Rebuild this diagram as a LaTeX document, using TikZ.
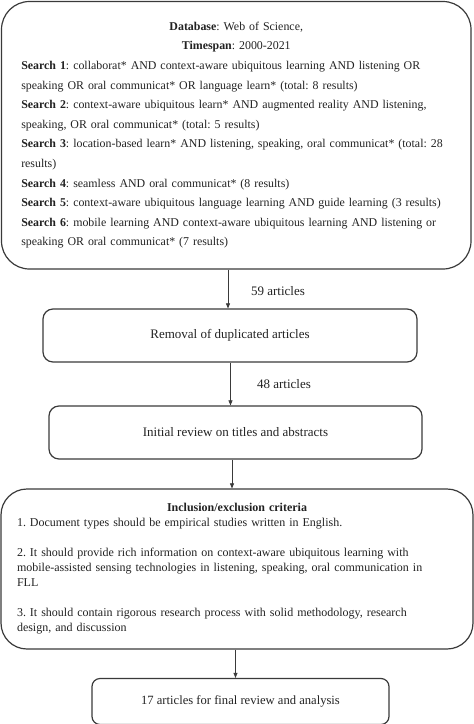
\documentclass[tikz,border=0pt]{standalone}
\usepackage{fontspec}
\setmainfont{Liberation Serif}
\frenchspacing
\usetikzlibrary{arrows.meta}
\definecolor{ink}{HTML}{222222}
\definecolor{edge}{HTML}{3A3A3A}
\tikzset{
  box/.style={draw=edge, line width=1.2pt, text=ink, inner sep=0pt},
  arr/.style={draw=edge, line width=0.6pt, -{Triangle[length=5pt,width=4pt]}},
  lbl/.style={text=ink, font=\fontsize{13}{15}\selectfont, inner sep=0pt}
}
\begin{document}
\begin{tikzpicture}[x=1pt,y=-1pt]
\useasboundingbox (0,0) rectangle (474,724);
\node[box, rounded corners=28pt, minimum width=469.5pt, minimum height=267.5pt,
      text width=430pt, align=left, font=\fontsize{11.9}{19.6}\selectfont] (b1) at (236.25,135.25)
{{\centering\textbf{Database}: Web of Science,\\ \textbf{Timespan}: 2000-2021\par}
\textbf{Search 1}: collaborat* AND context-aware ubiquitous learning AND listening OR\\
speaking OR oral communicat* OR language learn* (total: 8 results)\\
\textbf{Search 2}: context-aware ubiquitous learn* AND augmented reality AND listening,\\
speaking, OR oral communicat* (total: 5 results)\\
\textbf{Search 3}: location-based learn* AND listening, speaking, oral communicat* (total: 28\\
results)\\
\textbf{Search 4}: seamless AND oral communicat* (8 results)\\
\textbf{Search 5}: context-aware ubiquitous language learning AND guide learning (3 results)\\
\textbf{Search 6}: mobile learning AND context-aware ubiquitous learning AND listening or\\
speaking OR oral communicat* (7 results)};

\node[box, rounded corners=10pt, minimum width=374pt, minimum height=53pt,
      font=\fontsize{13}{15}\selectfont] (b2) at (230,335.5) {Removal of duplicated articles};

\node[box, rounded corners=10pt, minimum width=373pt, minimum height=53pt,
      font=\fontsize{13}{15}\selectfont] (b3) at (235.5,432.5) {Initial review on titles and abstracts};

\node[box, rounded corners=26pt, minimum width=472pt, minimum height=160pt,
      text width=440pt, align=left, font=\fontsize{12}{15}\selectfont] (b4) at (237,569)
{{\centering\textbf{Inclusion/exclusion criteria}\par}
1. Document types should be empirical studies written in English.\\[15pt]
2. It should provide rich information on context-aware ubiquitous learning with\\
mobile-assisted sensing technologies in listening, speaking, oral communication in\\
FLL\\[15pt]
3. It should contain rigorous research process with solid methodology, research\\
design, and discussion};

\node[box, rounded corners=8pt, minimum width=297pt, minimum height=46pt,
      font=\fontsize{12.6}{15}\selectfont] (b5) at (240.5,701.5) {17 articles for final review and analysis};

\coordinate (a1) at (228,0);
\coordinate (a2) at (230.5,0);
\coordinate (a3) at (232,0);
\coordinate (a4) at (235.5,0);
\draw[arr] (b1.south -| a1) -- (b2.north -| a1);
\draw[arr] (b2.south -| a2) -- (b3.north -| a2);
\draw[arr] (b3.south -| a3) -- (b4.north -| a3);
\draw[arr] (b4.south -| a4) -- (b5.north -| a4);

\node[lbl] (l1) at (278,291) {59 articles};
\node[lbl] (l2) at (284,384) {48 articles};
\end{tikzpicture}
\end{document}
